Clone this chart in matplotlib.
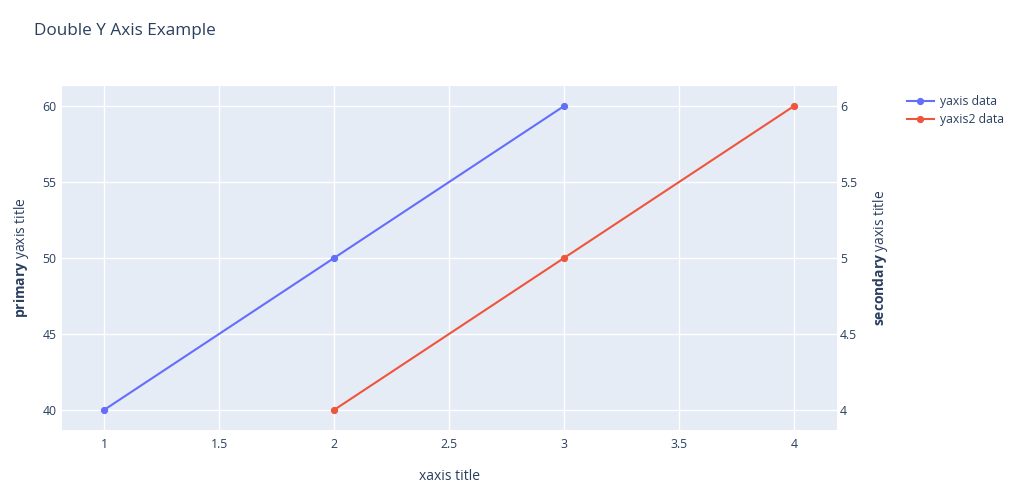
import matplotlib.pyplot as plt
from matplotlib.ticker import MultipleLocator

plt.rcParams['font.family'] = 'Open Sans'
plt.rcParams['mathtext.fontset'] = 'custom'
plt.rcParams['mathtext.rm'] = 'Open Sans'
plt.rcParams['mathtext.bf'] = 'Open Sans:bold'

# data
x1 = [1, 2, 3]
y1 = [40, 50, 60]
x2 = [2, 3, 4]
y2 = [4, 5, 6]

text_color = '#2a3f5f'
bg = '#E5ECF6'

fig = plt.figure(figsize=(10.3, 4.93), dpi=100)
ax = fig.add_axes([62 / 1030, 1 - 430 / 493, 775 / 1030, 344 / 493])
ax2 = ax.twinx()

ax.set_facecolor(bg)
ax.set_zorder(0)
ax2.set_zorder(1)
ax2.patch.set_visible(False)

l1, = ax.plot(x1, y1, '-o', color='#636efa', lw=1.5, ms=4.2, label='yaxis data', clip_on=False)
l2, = ax2.plot(x2, y2, '-o', color='#EF553B', lw=1.5, ms=4.2, label='yaxis2 data', clip_on=False)

ax.set_xlim(0.817, 4.187)
ax.set_ylim(38.68, 61.32)
ax2.set_ylim(3.868, 6.132)

ax.xaxis.set_major_locator(MultipleLocator(0.5))
ax.yaxis.set_major_locator(MultipleLocator(5))
ax2.yaxis.set_major_locator(MultipleLocator(0.5))

ax.grid(True, color='white', lw=1)
ax.set_axisbelow(True)
for a in (ax, ax2):
    for s in a.spines.values():
        s.set_visible(False)
    a.tick_params(length=0, colors=text_color, labelsize=8.8)
ax.tick_params(axis='y', pad=4)
ax.tick_params(axis='x', pad=6)
ax2.tick_params(axis='y', pad=2)

ax.yaxis.set_major_formatter(lambda v, p: f'{v:g}')
ax.xaxis.set_major_formatter(lambda v, p: f'{v:g}')
ax2.yaxis.set_major_formatter(lambda v, p: f'{v:g}')

ax.set_xlabel('xaxis title', fontsize=10, color=text_color, labelpad=13)
ax.set_ylabel(r'$\mathbf{primary}$ yaxis title', fontsize=10, color=text_color, labelpad=8)
ax2.set_ylabel(r'$\mathbf{secondary}$ yaxis title', fontsize=10, color=text_color, labelpad=10)

fig.text(34 / 1030, 1 - 31 / 493, 'Double Y Axis Example', fontsize=12.3,
         color=text_color, va='center', ha='left')

fig.legend(handles=[l1, l2], loc='upper left', bbox_to_anchor=(902 / 1030, 1 - 90 / 493),
           frameon=False, fontsize=8.8, labelcolor=text_color, handlelength=2.2,
           handletextpad=0.5, labelspacing=0.4, borderaxespad=0)

fig.savefig('out.png', dpi=100)
